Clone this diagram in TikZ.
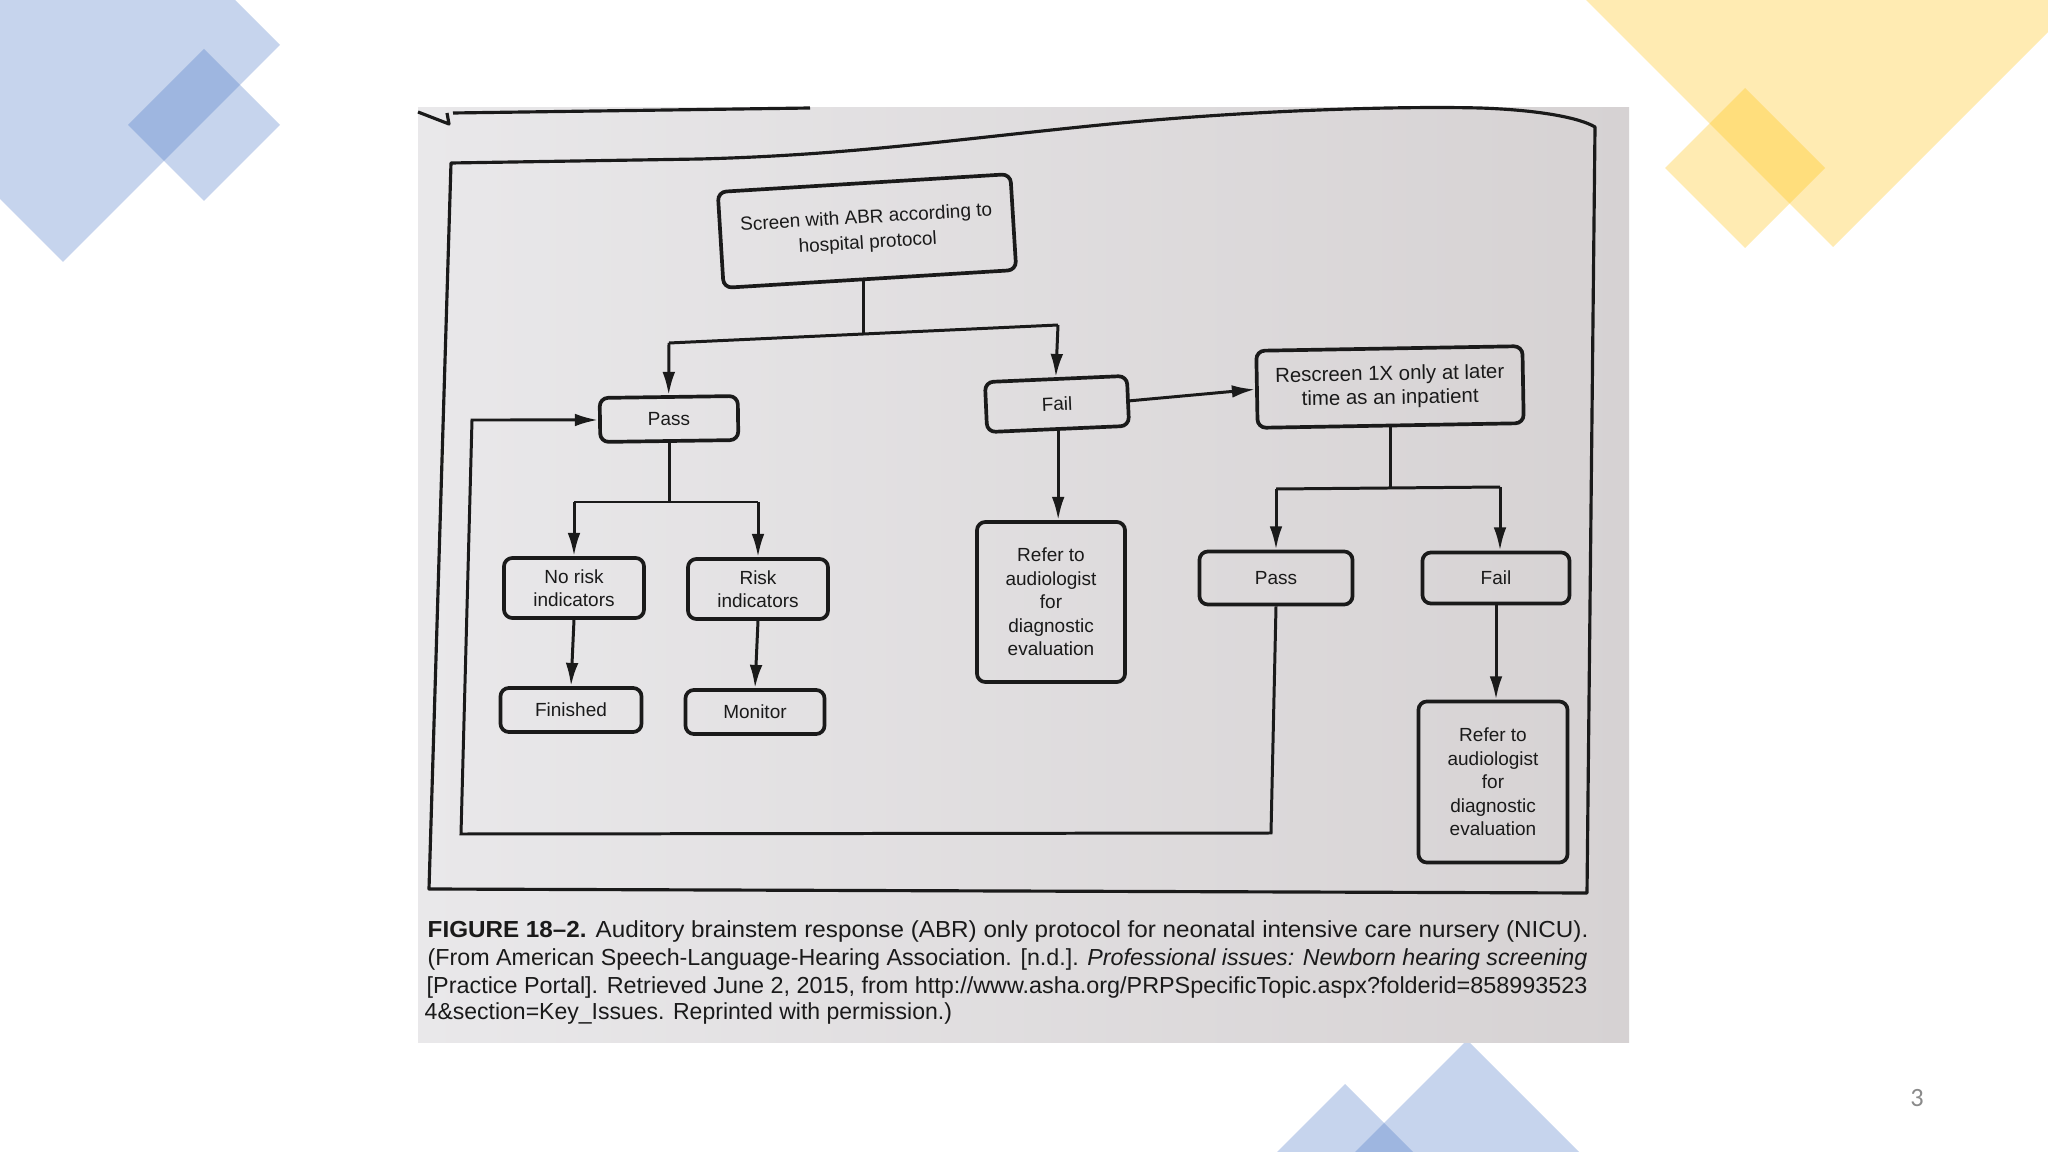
\documentclass[tikz,border=0pt]{standalone}
\usepackage{fontspec}
\usepackage{graphicx}
\setmainfont{Liberation Sans}
\newfontfamily\pgfont{Carlito}
\usetikzlibrary{arrows.meta}
\definecolor{dblue}{HTML}{4472C4}
\definecolor{dgold}{HTML}{FFC000}
\definecolor{photoL}{HTML}{E9E8EA}
\definecolor{photoR}{HTML}{D6D2D3}
\definecolor{ink}{HTML}{1A1A1A}
\definecolor{pggray}{HTML}{8A8A8A}
\begin{document}
\begin{tikzpicture}[x=0.01cm,y=-0.01cm,
  box/.style={draw=ink, line width=1.05pt, rounded corners=2.4pt, align=center, inner sep=0pt,
              font=\fontsize{5.4pt}{6.7pt}\selectfont, text=ink},
  ln/.style={draw=ink, line width=0.85pt},
  arr/.style={ln, -{Latex[length=6.6pt,width=3.6pt]}},
  framel/.style={draw=ink, line width=0.9pt, line join=round},
  deco/.style={opacity=0.3},
  captext/.style={inner sep=0pt, text=ink, font=\fontsize{6.6pt}{8pt}\selectfont, anchor=base west}
]
\useasboundingbox (0,0) rectangle (2048,1152);
\fill[white] (0,0) rectangle (2048,1152);
\begin{scope}
\clip (0,0) rectangle (2048,1152);
% decorations
\fill[dblue, deco] (63,-172) -- (280,45) -- (63,262) -- (-154,45) -- cycle;
\fill[dblue, deco] (204,49) -- (280,125) -- (204,201) -- (128,125) -- cycle;
\fill[dgold, deco] (1833,-353) -- (2133,-53) -- (1833,247) -- (1533,-53) -- cycle;
\fill[dgold, deco] (1745,88) -- (1825,168) -- (1745,248) -- (1665,168) -- cycle;
\fill[dblue, deco] (1467,1040) -- (1787,1360) -- (1467,1680) -- (1147,1360) -- cycle;
\fill[dblue, deco] (1345,1084) -- (1545,1284) -- (1345,1484) -- (1145,1284) -- cycle;
\end{scope}

% photo
\shade[left color=photoL, right color=photoR] (418,108) rectangle (1629,1042);

% frame
\draw[framel] (451,163) -- (429,889) -- (1587,893) -- (1595,127)
  .. controls (1580,118) and (1540,110) .. (1480,108)
  .. controls (1400,106) and (1250,110) .. (1100,125)
  .. controls (950,140) and (850,155) .. (700,159) -- cycle;
\draw[framel] (453,113) -- (810,108);
\draw[framel] (418,112) -- (449,124) -- (447,113);

% nodes
\node[box, rotate=3.5, minimum width=2.93cm, minimum height=0.96cm,
      font=\fontsize{5.4pt}{7.2pt}\selectfont] (screen) at (867,231) {Screen with ABR according to\\hospital protocol};
\node[box, rotate=0.8, minimum width=1.38cm, minimum height=0.44cm] (pass1) at (669,419) {Pass};
\node[box, rotate=2.5, minimum width=1.42cm, minimum height=0.50cm] (fail1) at (1057,404) {Fail};
\node[box, rotate=1, minimum width=2.66cm, minimum height=0.77cm,
      font=\fontsize{5.8pt}{6.8pt}\selectfont] (rescreen) at (1390,387) {Rescreen 1X only at later\\time as an inpatient};
\node[box, minimum width=1.40cm, minimum height=0.60cm] (norisk) at (574,588) {No risk\\indicators};
\node[box, minimum width=1.40cm, minimum height=0.60cm] (risk) at (758,589) {Risk\\indicators};
\node[box, minimum width=1.41cm, minimum height=0.44cm] (finished) at (571,710) {Finished};
\node[box, minimum width=1.39cm, minimum height=0.44cm] (monitor) at (755,712) {Monitor};
\node[box, minimum width=1.48cm, minimum height=1.60cm] (refer1) at (1051,602) {Refer to\\audiologist\\for\\diagnostic\\evaluation};
\node[box, minimum width=1.53cm, minimum height=0.53cm] (pass2) at (1276,578) {Pass};
\node[box, minimum width=1.47cm, minimum height=0.51cm] (fail2) at (1496,578) {Fail};
\node[box, minimum width=1.49cm, minimum height=1.61cm] (refer2) at (1493,782) {Refer to\\audiologist\\for\\diagnostic\\evaluation};

% connectors
\coordinate (sL) at (669,343);
\coordinate (sR) at (1058,325);
\draw[ln] (screen.south -| 863,0) -- (863,334);
\draw[ln] (sL) -- (sR);
\draw[arr] (sL) -- (pass1.north);
\draw[arr] (sR) -- (fail1.north);
\draw[arr] (fail1.east) -- (rescreen.west);
\draw[arr] (fail1.south) -- (fail1.south |- refer1.north);

\coordinate (nL) at (574,502);
\coordinate (nR) at (758,502);
\draw[ln] (pass1.south) -- (pass1.south |- nL);
\draw[ln] (nL) -- (nR);
\draw[arr] (nL) -- (norisk.north);
\draw[arr] (nR) -- (risk.north);
\draw[arr] (norisk.south) -- (finished.north);
\draw[arr] (risk.south) -- (monitor.north);

\coordinate (rL) at (1276,489);
\coordinate (rR) at (1500,487);
\draw[ln] (rescreen.south) -- (rescreen.south |- 0,488);
\draw[ln] (rL) -- (rR);
\draw[arr] (rL) -- (pass2.north);
\draw[arr] (rR) -- (rR |- fail2.north);
\draw[arr] (fail2.south) -- (fail2.south |- refer2.north);

\coordinate (l1) at (1271,833);
\coordinate (l2) at (461,834);
\coordinate (l3) at (472,420);
\draw[arr] (pass2.south) -- (l1) -- (l2) -- (l3) -- (pass1.west);

% caption
\node[captext] (cap1) at (427,937) {\resizebox{11.60cm}{\height}{\textbf{FIGURE 18–2.} Auditory brainstem response (ABR) only protocol for neonatal intensive care nursery (NICU).}};
\node[captext] (cap2) at (427,965) {\resizebox{11.59cm}{\height}{(From American Speech-Language-Hearing Association. [n.d.]. \textit{Professional issues: Newborn hearing screening}}};
\node[captext] (cap3) at (426,993) {\resizebox{11.60cm}{\height}{[Practice Portal]. Retrieved June 2, 2015, from http://www.asha.org/PRPSpecificTopic.aspx?folderid=858993523}};
\node[captext] (cap4) at (424,1019) {\resizebox{5.27cm}{\height}{4\&section=Key\_Issues. Reprinted with permission.)}};

% page number
\node[font=\pgfont\fontsize{7.5pt}{9pt}\selectfont, text=pggray] (pg) at (1917,1098) {3};
\end{tikzpicture}
\end{document}
